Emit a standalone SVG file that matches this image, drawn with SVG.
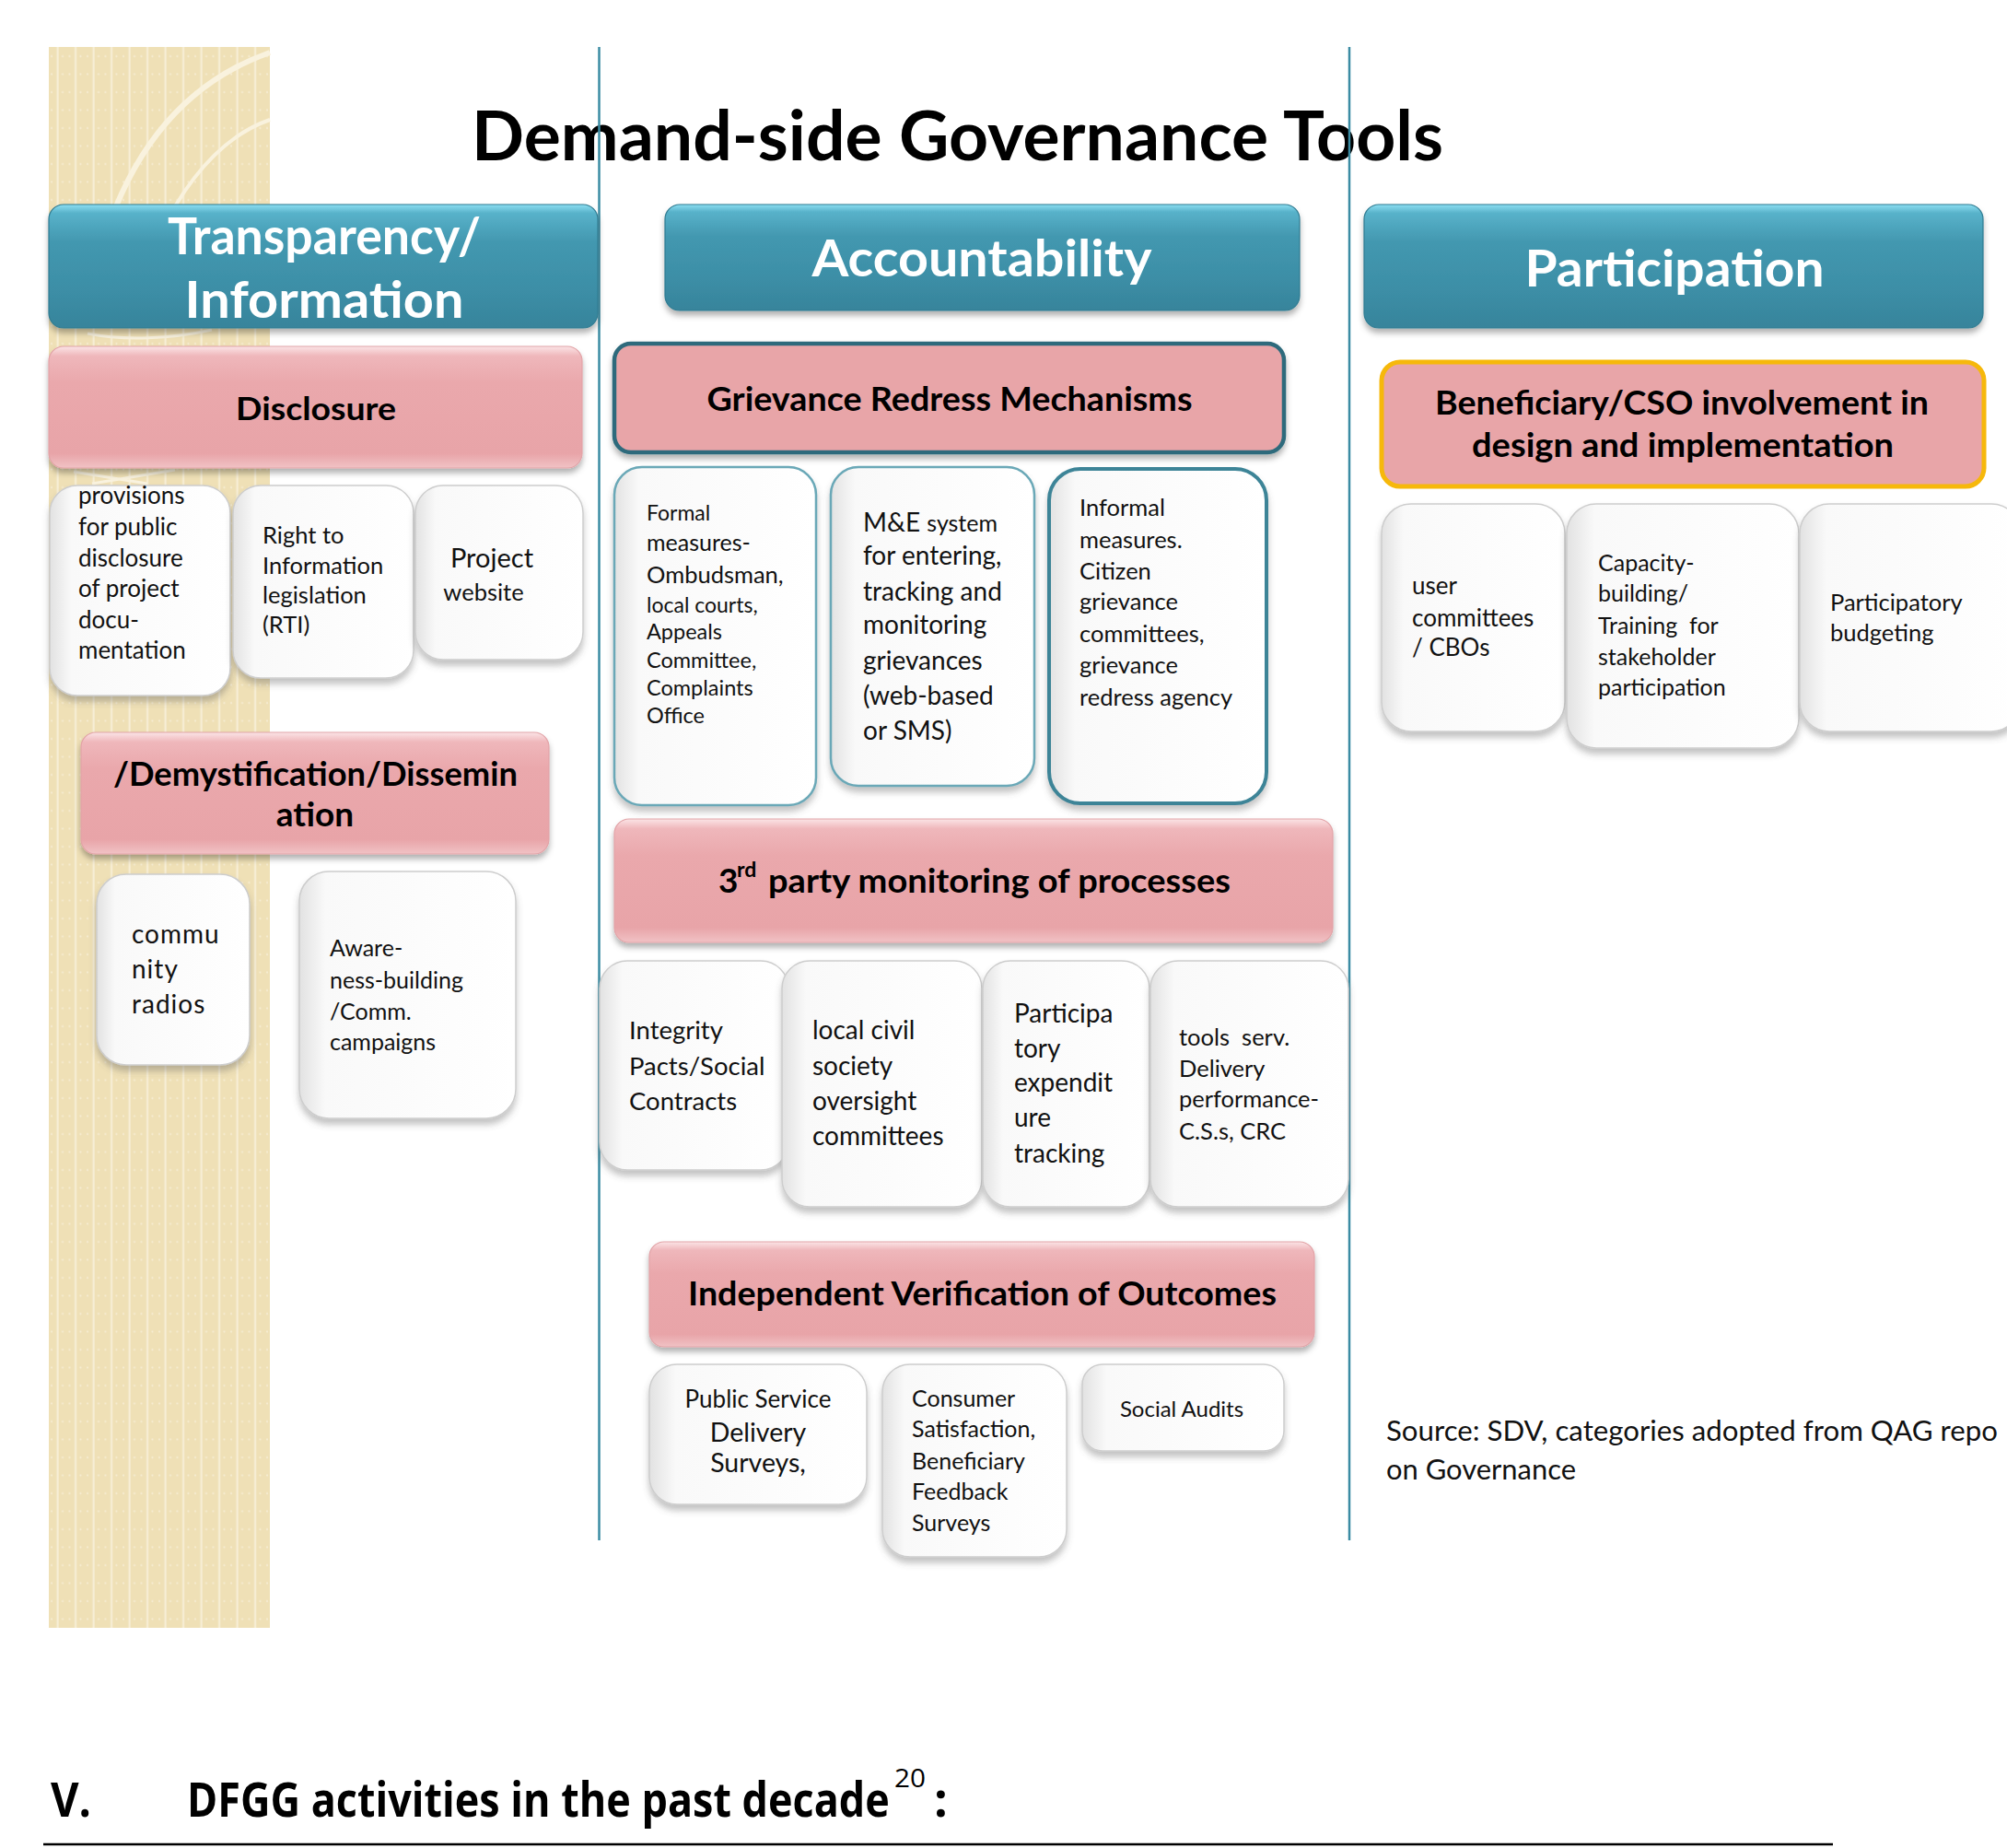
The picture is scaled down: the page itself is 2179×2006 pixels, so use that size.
<svg xmlns="http://www.w3.org/2000/svg" width="2179" height="2006" viewBox="0 0 2179 2006">
<defs>
<style>
.sep{stroke:#3b8ca3;stroke-width:2.5}
.teal{fill:url(#gTeal);stroke:#2f7b91;stroke-width:1.2;filter:url(#sh)}
.pink{fill:url(#gPink);stroke:#e2a3a7;stroke-width:1.2;filter:url(#sh)}
.card{fill:url(#gCard);stroke:#cdcdcd;stroke-width:1.5;filter:url(#sh2)}
.cardT{fill:url(#gCard);stroke:#6aa8b7;stroke-width:2.5;filter:url(#sh2)}
.cardT2{fill:url(#gCard);stroke:#3d8497;stroke-width:4;filter:url(#sh2)}
.hw{font-family:Lato,"Open Sans","Liberation Sans",sans-serif;font-weight:700;fill:#fff;text-anchor:middle}
.hb{font-family:Lato,"Open Sans","Liberation Sans",sans-serif;font-weight:700;fill:#000}
.t{font-family:Lato,"Open Sans","Liberation Sans",sans-serif;fill:#111}
.cal{font-family:"Open Sans","Liberation Sans",sans-serif;font-weight:700;fill:#000}
</style>
<linearGradient id="gTeal" x1="0" y1="0" x2="0" y2="1">
<stop offset="0" stop-color="#8ddff2"/>
<stop offset="0.07" stop-color="#58b2ca"/>
<stop offset="0.3" stop-color="#4398b0"/>
<stop offset="0.7" stop-color="#3c8ea6"/>
<stop offset="1" stop-color="#37849b"/>
</linearGradient>
<linearGradient id="gPink" x1="0" y1="0" x2="0" y2="1">
<stop offset="0" stop-color="#fbe4e6"/>
<stop offset="0.08" stop-color="#efb7bb"/>
<stop offset="0.3" stop-color="#eaa8ac"/>
<stop offset="0.88" stop-color="#e8a4a8"/>
<stop offset="1" stop-color="#f1c2c5"/>
</linearGradient>
<linearGradient id="gCard" x1="0" y1="0" x2="1" y2="0">
<stop offset="0" stop-color="#e2e2e2"/>
<stop offset="0.12" stop-color="#f9f9f9"/>
<stop offset="1" stop-color="#ffffff"/>
</linearGradient>
<pattern id="weave" x="53" y="51" width="19.5" height="19.5" patternUnits="userSpaceOnUse">
<rect width="19.5" height="19.5" fill="#efe0b6"/>
<rect x="8.5" y="0" width="2.2" height="19.5" fill="#f7eed5"/>
<circle cx="3" cy="10" r="1.1" fill="#f7eed5"/>
<circle cx="15" cy="10" r="1.1" fill="#f7eed5"/>
</pattern>
<filter id="sh" x="-5%" y="-10%" width="110%" height="130%">
<feDropShadow dx="0" dy="5" stdDeviation="3" flood-color="#000" flood-opacity="0.3"/>
</filter>
<filter id="sh2" x="-8%" y="-8%" width="116%" height="122%">
<feDropShadow dx="0" dy="6" stdDeviation="3.5" flood-color="#555" flood-opacity="0.35"/>
</filter>
</defs>

<g id="background">
<rect x="53" y="51" width="240" height="1716" fill="url(#weave)"/>
<path d="M293 57 C200 90 125 170 96 330" fill="none" stroke="#f9f2de" stroke-width="6"/>
<path d="M293 130 C235 150 180 215 150 320" fill="none" stroke="#f9f2de" stroke-width="4"/>
<path d="M95 362 C135 370 185 368 230 358" fill="none" stroke="#f9f2de" stroke-width="3"/>
<path d="M80 512 L160 525 M100 525 L190 510" fill="none" stroke="#f9f2de" stroke-width="3"/>
</g>

<g id="title">
<text class="hb" x="512" y="174" font-size="74" textLength="1055" lengthAdjust="spacingAndGlyphs">Demand-side Governance Tools</text>
</g>

<g id="separators">
<line class="sep" x1="650.5" y1="51" x2="650.5" y2="1672"/>
<line class="sep" x1="1465" y1="51" x2="1465" y2="1672"/>
</g>

<g id="connectors"></g>

<g id="hdr-transparency">
<rect class="teal" x="53" y="222" width="596" height="134" rx="16"/>
<text class="hw" x="352" y="276" font-size="56" textLength="340" lengthAdjust="spacingAndGlyphs">Transparency/</text>
<text class="hw" x="352" y="345" font-size="56" textLength="303" lengthAdjust="spacingAndGlyphs">Information</text>
</g>
<g id="hdr-accountability">
<rect class="teal" x="722" y="222" width="689" height="115" rx="16"/>
<text class="hw" x="1066" y="300" font-size="55" textLength="369" lengthAdjust="spacingAndGlyphs">Accountability</text>
</g>
<g id="hdr-participation">
<rect class="teal" x="1481" y="222" width="672" height="134" rx="16"/>
<text class="hw" x="1818" y="311" font-size="55" textLength="325" lengthAdjust="spacingAndGlyphs">Participation</text>
</g>

<g id="disclosure">
<rect class="pink" x="53" y="376" width="579" height="132" rx="16"/>
<text class="hb" x="343" y="456" font-size="34" text-anchor="middle" textLength="174" lengthAdjust="spacingAndGlyphs">Disclosure</text>
</g>
<g id="provisions">
<rect class="card" x="54" y="527" width="196" height="228" rx="30"/>
<text class="t" font-size="26"><tspan x="85" y="547">provisions</tspan><tspan x="85" y="581">for public</tspan><tspan x="85" y="615">disclosure</tspan><tspan x="85" y="648">of project</tspan><tspan x="85" y="682">docu-</tspan><tspan x="85" y="715">mentation</tspan></text>
</g>
<g id="rti">
<rect class="card" x="253" y="527" width="196" height="209" rx="30"/>
<text class="t" font-size="25.5"><tspan x="285" y="590">Right to</tspan><tspan x="285" y="623">Information</tspan><tspan x="285" y="655">legislation</tspan><tspan x="285" y="687">(RTI)</tspan></text>
</g>
<g id="project-website">
<rect class="card" x="451" y="527" width="182" height="189" rx="30"/>
<text class="t" x="534" y="616" font-size="29" text-anchor="middle">Project</text>
<text class="t" x="525" y="652" font-size="25.5" text-anchor="middle">website</text>
</g>
<g id="demystification">
<rect class="pink" x="88" y="795" width="508" height="132" rx="16"/>
<text class="hb" x="123" y="853" font-size="37" textLength="439" lengthAdjust="spacingAndGlyphs">/Demystification/Dissemin</text>
<text class="hb" x="342" y="897" font-size="37" text-anchor="middle">ation</text>
</g>
<g id="community-radios">
<rect class="card" x="105" y="949" width="166" height="207" rx="32"/>
<text class="t" font-size="28" letter-spacing="1"><tspan x="143" y="1024">commu</tspan><tspan x="143" y="1062">nity</tspan><tspan x="143" y="1100">radios</tspan></text>
</g>
<g id="awareness">
<rect class="card" x="325" y="946" width="235" height="268" rx="32"/>
<text class="t" font-size="25"><tspan x="358" y="1038">Aware-</tspan><tspan x="358" y="1073">ness-building</tspan><tspan x="358" y="1107">/Comm.</tspan><tspan x="358" y="1140">campaigns</tspan></text>
</g>

<g id="grievance">
<rect x="667" y="373" width="727" height="118" rx="18" fill="#e8a5a8" stroke="#2e6b7b" stroke-width="4.5" filter="url(#sh)"/>
<text class="hb" x="1031" y="446" font-size="37" text-anchor="middle" textLength="527" lengthAdjust="spacingAndGlyphs">Grievance Redress Mechanisms</text>
</g>
<g id="formal-measures">
<rect class="cardT" x="667" y="507" width="219" height="367" rx="30"/>
<text class="t"><tspan x="702" y="565" font-size="23">Formal</tspan><tspan x="702" y="598" font-size="25">measures-</tspan><tspan x="702" y="633" font-size="25.5">Ombudsman,</tspan><tspan x="702" y="665" font-size="23">local courts,</tspan><tspan x="702" y="694" font-size="23.5">Appeals</tspan><tspan x="702" y="725" font-size="23.5">Committee,</tspan><tspan x="702" y="755" font-size="23.5">Complaints</tspan><tspan x="702" y="785" font-size="23.5">Office</tspan></text>
</g>
<g id="me-system">
<rect class="cardT" x="902" y="507" width="221" height="346" rx="30"/>
<text class="t" font-size="28"><tspan x="937" y="577">M&amp;E <tspan font-size="25">system</tspan></tspan><tspan x="937" y="613">for entering,</tspan><tspan x="937" y="652">tracking and</tspan><tspan x="937" y="688">monitoring</tspan><tspan x="937" y="727">grievances</tspan><tspan x="937" y="765">(web-based</tspan><tspan x="937" y="803">or SMS)</tspan></text>
</g>
<g id="informal-measures">
<rect class="cardT2" x="1139" y="509" width="236" height="363" rx="34"/>
<text class="t" font-size="25.5"><tspan x="1172" y="560">Informal</tspan><tspan x="1172" y="595">measures.</tspan><tspan x="1172" y="629">Citizen</tspan><tspan x="1172" y="662">grievance</tspan><tspan x="1172" y="697">committees,</tspan><tspan x="1172" y="731">grievance</tspan><tspan x="1172" y="766">redress agency</tspan></text>
</g>

<g id="third-party">
<rect class="pink" x="667" y="889" width="780" height="134" rx="16"/>
<text class="hb" x="780" y="969" font-size="37">3</text>
<text class="hb" x="800" y="952" font-size="23">rd</text>
<text class="hb" x="834" y="969" font-size="37" textLength="502" lengthAdjust="spacingAndGlyphs">party monitoring of processes</text>
</g>
<g id="integrity-pacts">
<rect class="card" x="651" y="1043" width="205" height="227" rx="30"/>
<text class="t" font-size="27.5"><tspan x="683" y="1128">Integrity</tspan><tspan x="683" y="1167">Pacts/Social</tspan><tspan x="683" y="1205">Contracts</tspan></text>
</g>
<g id="local-civil">
<rect class="card" x="849" y="1043" width="217" height="267" rx="30"/>
<text class="t" font-size="28"><tspan x="882" y="1128">local civil</tspan><tspan x="882" y="1167">society</tspan><tspan x="882" y="1205">oversight</tspan><tspan x="882" y="1243">committees</tspan></text>
</g>
<g id="participatory-expenditure">
<rect class="card" x="1067" y="1043" width="181" height="267" rx="30"/>
<text class="t" font-size="28"><tspan x="1101" y="1110">Participa</tspan><tspan x="1101" y="1148">tory</tspan><tspan x="1101" y="1185">expendit</tspan><tspan x="1101" y="1223">ure</tspan><tspan x="1101" y="1262">tracking</tspan></text>
</g>
<g id="tools-serv">
<rect class="card" x="1249" y="1043" width="215" height="267" rx="30"/>
<text class="t" font-size="25.5" style="white-space:pre"><tspan x="1280" y="1135">tools  serv.</tspan><tspan x="1280" y="1169">Delivery</tspan><tspan x="1280" y="1202">performance-</tspan><tspan x="1280" y="1237">C.S.s, CRC</tspan></text>
</g>

<g id="independent-verification">
<rect class="pink" x="705" y="1348" width="722" height="114" rx="16"/>
<text class="hb" x="747" y="1417" font-size="37" textLength="639" lengthAdjust="spacingAndGlyphs">Independent Verification of Outcomes</text>
</g>
<g id="public-service">
<rect class="card" x="705" y="1481" width="236" height="152" rx="30"/>
<text class="t" text-anchor="middle"><tspan x="823" y="1528" font-size="26">Public Service</tspan><tspan x="823" y="1565" font-size="28.5">Delivery</tspan><tspan x="823" y="1598" font-size="28.5">Surveys,</tspan></text>
</g>
<g id="consumer-satisfaction">
<rect class="card" x="958" y="1481" width="200" height="209" rx="30"/>
<text class="t" font-size="25"><tspan x="990" y="1527">Consumer</tspan><tspan x="990" y="1560">Satisfaction,</tspan><tspan x="990" y="1595">Beneficiary</tspan><tspan x="990" y="1628">Feedback</tspan><tspan x="990" y="1662">Surveys</tspan></text>
</g>
<g id="social-audits">
<rect class="card" x="1175" y="1481" width="219" height="94" rx="22"/>
<text class="t" x="1283" y="1538" font-size="24" text-anchor="middle">Social Audits</text>
</g>

<g id="beneficiary">
<rect x="1500" y="393" width="654" height="135" rx="20" fill="#e8a5a8" stroke="#f6b80b" stroke-width="5"/>
<text class="hb" x="1826" y="450" font-size="37" text-anchor="middle" textLength="536" lengthAdjust="spacingAndGlyphs">Beneficiary/CSO involvement in</text>
<text class="hb" x="1827" y="496" font-size="37" text-anchor="middle" textLength="458" lengthAdjust="spacingAndGlyphs">design and implementation</text>
</g>
<g id="user-committees">
<rect class="card" x="1500" y="547" width="199" height="247" rx="32"/>
<text class="t" font-size="26"><tspan x="1533" y="645">user</tspan><tspan x="1533" y="680">committees</tspan><tspan x="1533" y="712">/ CBOs</tspan></text>
</g>
<g id="capacity-building">
<rect class="card" x="1701" y="547" width="252" height="265" rx="32"/>
<text class="t" font-size="25" style="white-space:pre"><tspan x="1735" y="620">Capacity-</tspan><tspan x="1735" y="653">building/</tspan><tspan x="1735" y="688">Training  for</tspan><tspan x="1735" y="722">stakeholder</tspan><tspan x="1735" y="755">participation</tspan></text>
</g>
<g id="participatory-budgeting">
<rect class="card" x="1954" y="547" width="240" height="247" rx="32"/>
<text class="t" font-size="25.5"><tspan x="1987" y="663">Participatory</tspan><tspan x="1987" y="696">budgeting</tspan></text>
</g>

<g id="source">
<text class="t" x="1505" y="1564" font-size="30" textLength="664" lengthAdjust="spacingAndGlyphs">Source: SDV, categories adopted from QAG repo</text>
<text class="t" x="1505" y="1606" font-size="31" textLength="206" lengthAdjust="spacingAndGlyphs">on Governance</text>
</g>

<g id="section-heading">
<text class="cal" x="55" y="1972" font-size="52" textLength="44" lengthAdjust="spacingAndGlyphs">V.</text>
<g transform="translate(203 1972) scale(0.86 1)">
<text class="cal" x="0" y="0" font-size="52" textLength="887" lengthAdjust="spacingAndGlyphs">DFGG activities in the past decade</text>
</g>
<text x="971" y="1940" font-size="28" font-family="'Open Sans','Liberation Sans',sans-serif" fill="#000" textLength="34" lengthAdjust="spacingAndGlyphs">20</text>
<text class="cal" x="1014" y="1972" font-size="52">:</text>
<line x1="47" y1="2002" x2="1990" y2="2002" stroke="#000" stroke-width="2.5"/>
</g>
</svg>
